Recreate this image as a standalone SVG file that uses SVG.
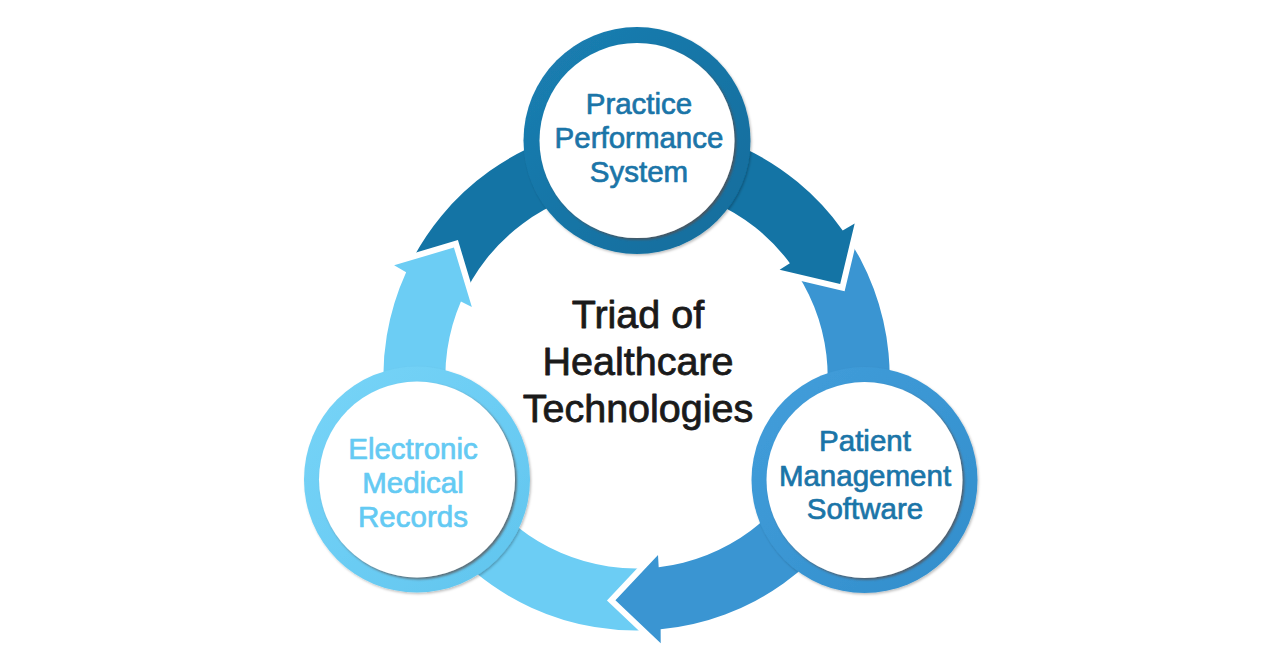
<svg xmlns="http://www.w3.org/2000/svg" xmlns:xlink="http://www.w3.org/1999/xlink" width="1279" height="670" viewBox="0 0 1279 670">
<style>
  .lbl { font-family: "Liberation Sans", Arial, Helvetica, sans-serif; font-size: 29.5px; text-anchor: middle; stroke-width: 0.7px; stroke-linejoin: round; }
  .dark { fill: #1b75a8; stroke: #1b75a8; }
  .lite { fill: #64caf3; stroke: #64caf3; }
  .title { font-family: "Liberation Sans", Arial, Helvetica, sans-serif; font-size: 39.5px; text-anchor: middle; fill: #1a1a1a; stroke: #1a1a1a; stroke-width: 0.8px; stroke-linejoin: round; }
  .disk { fill: #ffffff; filter: url(#diskShadow); }
  .ring { filter: url(#ringShadow); }
</style>
<defs>
  <filter id="ringShadow" x="-20%" y="-20%" width="140%" height="140%">
    <feDropShadow dx="1.2" dy="1.5" stdDeviation="1.2" flood-color="#000" flood-opacity="0.25"/>
  </filter>
  <filter id="diskShadow" x="-20%" y="-20%" width="140%" height="140%">
    <feDropShadow dx="1.8" dy="1.8" stdDeviation="1" flood-color="#5b4d48" flood-opacity="0.75"/>
  </filter>
  <linearGradient id="gDark" x1="0" y1="0" x2="1" y2="1">
    <stop offset="0" stop-color="#1c7fb3"/>
    <stop offset="0.5" stop-color="#1575a6"/>
    <stop offset="1" stop-color="#116c9c"/>
  </linearGradient>
  <linearGradient id="gMed" x1="0" y1="0" x2="1" y2="1">
    <stop offset="0" stop-color="#429edb"/>
    <stop offset="0.5" stop-color="#3a96d3"/>
    <stop offset="1" stop-color="#318dcb"/>
  </linearGradient>
  <linearGradient id="gLite" x1="0" y1="0" x2="1" y2="1">
    <stop offset="0" stop-color="#77d4f7"/>
    <stop offset="0.5" stop-color="#6ccdf4"/>
    <stop offset="1" stop-color="#60c4ed"/>
  </linearGradient>
  <path id="headL" d="M394.12,265.31 L453.91,247.54 L471.85,307.07 Z"/>
  <path id="headD" d="M854.68,223.39 L840.17,284.05 L779.64,269.82 Z"/>
  <path id="headM" d="M660.70,643.20 L615.42,600.31 L658.01,555.00 Z"/>
  <mask id="mDark" maskUnits="userSpaceOnUse" x="0" y="0" width="1279" height="670">
    <rect width="1279" height="670" fill="#fff"/>
    <use xlink:href="#headL" fill="#000" stroke="#000" stroke-width="12" stroke-linejoin="miter" stroke-miterlimit="10"/>
  </mask>
  <mask id="mMed" maskUnits="userSpaceOnUse" x="0" y="0" width="1279" height="670">
    <rect width="1279" height="670" fill="#fff"/>
    <use xlink:href="#headD" fill="#000" stroke="#000" stroke-width="12" stroke-linejoin="miter" stroke-miterlimit="10"/>
  </mask>
  <mask id="mLite" maskUnits="userSpaceOnUse" x="0" y="0" width="1279" height="670">
    <rect width="1279" height="670" fill="#fff"/>
    <use xlink:href="#headM" fill="#000" stroke="#000" stroke-width="12" stroke-linejoin="miter" stroke-miterlimit="10"/>
  </mask>
</defs>
<rect width="1279" height="670" fill="#ffffff"/>

<g id="connectors">
  <path id="arrow-practice-to-patient" fill="#1474a5" mask="url(#mDark)" d="M460.94,301.55 L406.15,272.18 A253.2,253.2 0 0 1 842.71,230.38 L854.68,223.39 L840.17,284.05 L779.64,269.82 L789.88,263.14 A191.2,191.2 0 0 0 460.94,301.55 Z"/>
  <path id="arrow-patient-to-emr" fill="#3a95d2" mask="url(#mMed)" d="M789.88,263.14 L842.71,230.38 A253.2,253.2 0 0 1 660.64,629.35 L660.70,643.20 L615.42,600.31 L658.01,555.00 L658.68,567.21 A191.2,191.2 0 0 0 789.88,263.14 Z"/>
  <path id="arrow-emr-to-practice" fill="#6ccdf4" mask="url(#mLite)" d="M658.68,567.21 L660.64,629.35 A253.2,253.2 0 0 1 406.15,272.18 L394.12,265.31 L453.91,247.54 L471.85,307.07 L460.94,301.55 A191.2,191.2 0 0 0 658.68,567.21 Z"/>
</g>

<g id="node-practice">
  <circle class="ring" cx="637" cy="140.5" r="113.5" fill="url(#gDark)"/>
  <circle class="disk" cx="637" cy="140.5" r="97.5"/>
  <text class="lbl dark" x="639" y="113.5">Practice</text>
  <text class="lbl dark" x="639" y="148">Performance</text>
  <text class="lbl dark" x="639" y="182">System</text>
</g>

<g id="node-patient">
  <circle class="ring" cx="864.5" cy="480" r="113" fill="url(#gMed)"/>
  <circle class="disk" cx="864.5" cy="480" r="98"/>
  <text class="lbl dark" x="865" y="451">Patient</text>
  <text class="lbl dark" x="865" y="485.7">Management</text>
  <text class="lbl dark" x="865" y="519.3">Software</text>
</g>

<g id="node-emr">
  <circle class="ring" cx="417" cy="479.5" r="113" fill="url(#gLite)"/>
  <circle class="disk" cx="417" cy="479.5" r="98"/>
  <text class="lbl lite" x="413" y="458.5">Electronic</text>
  <text class="lbl lite" x="413" y="492.7">Medical</text>
  <text class="lbl lite" x="413" y="526.7">Records</text>
</g>

<g id="title">
  <text class="title" x="638" y="328">Triad of</text>
  <text class="title" x="638" y="375">Healthcare</text>
  <text class="title" x="638" y="421.5">Technologies</text>
</g>
</svg>
